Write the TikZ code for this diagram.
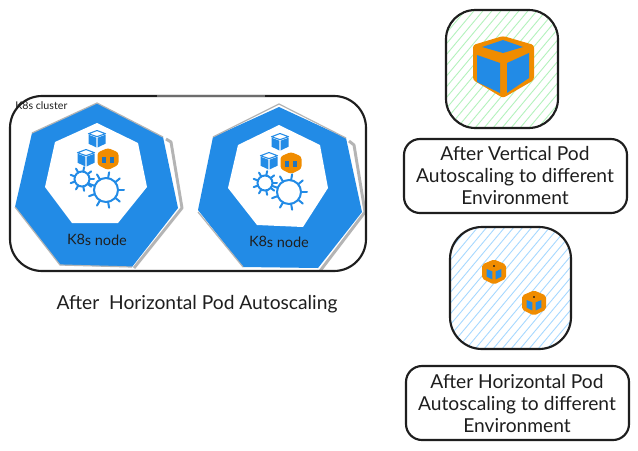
\documentclass[tikz,border=0pt]{standalone}
\usepackage{fontspec}
\setmainfont{Lato}
\definecolor{kblue}{HTML}{228BE6}
\definecolor{korange}{HTML}{F08C00}
\definecolor{kink}{HTML}{1E1E1E}
\definecolor{kgreen}{HTML}{B2F2BB}
\definecolor{khatch}{HTML}{A5D8FF}
\definecolor{kgray}{HTML}{B4B4B4}
\tikzset{
  x=0.75pt,y=-0.75pt,
  outline/.style={draw=kink,line width=1.6pt},
  shadowline/.style={draw=kgray,line width=0.9pt,line join=round},
  thickshadow/.style={draw=kgray,line width=2.2pt,line join=round},
  label/.style={text=kink,font=\fontsize{14.4}{16.5}\selectfont,align=center,inner sep=0pt},
  nodelabel/.style={text=kink,font=\fontsize{10.8}{13}\selectfont,inner sep=0pt},
  pics/gear/.style n args={2}{code={
    \draw[kblue,line width=1.5pt] (0,0) circle[radius=#1];
    \foreach \a in {0,40,...,320}
      \draw[kblue,line width=1.5pt,line cap=round] (\a:#1) -- (\a:#2);
  }},
  pics/bluecube/.style={code={
    \begin{scope}[scale=#1]
      \fill[kblue] (-1,-.5) -- (-.06,-.15) -- (-.06,1) -- (-1,.55) -- cycle;
      \fill[kblue] (1,-.5) -- (.06,-.15) -- (.06,1) -- (1,.55) -- cycle;
      \draw[kblue,line width=.8pt,line join=round] (0,-1) -- (1,-.62) -- (0,-.28) -- (-1,-.62) -- cycle;
    \end{scope}
  }},
  pics/pod/.style={code={
    \begin{scope}[scale=#1]
      \fill[korange,rounded corners=1.5] (0,-1.05) -- (1,-.62) -- (1,.55) -- (0,1.05) -- (-1,.55) -- (-1,-.62) -- cycle;
      \fill[kblue] (-.62,-.25) -- (-.14,-.05) -- (-.14,.62) -- (-.62,.38) -- cycle;
      \fill[kblue] (.62,-.25) -- (.14,-.05) -- (.14,.62) -- (.62,.38) -- cycle;
      \fill[kink!70!korange] (-.08,-.62) rectangle (.08,-.42);
    \end{scope}
  }},
  pics/minipod/.style={code={
    \begin{scope}[scale=#1]
      \fill[korange,rounded corners=2] (0,-1.05) -- (1,-.62) -- (1,.55) -- (0,1.05) -- (-1,.55) -- (-1,-.62) -- cycle;
      \fill[kblue!80!kink] (-.55,-.2) rectangle (-.2,.38);
      \fill[kblue!80!kink] (.55,-.2) rectangle (.2,.38);
    \end{scope}
  }},
}
\newcommand{\hatchlines}[3]{%
  \foreach \hx in {#3} \draw[#1,line width=.65pt] (\hx,#2) -- ++(112,-134);
}
\begin{document}
\begin{tikzpicture}
\useasboundingbox (0,0) rectangle (638,450);
\fill[white] (0,0) rectangle (638,450);

% first node
\fill[kblue] (97,103) -- (163,137) -- (178,208) -- (132,267) -- (60,265) -- (15,207) -- (32,133) -- cycle;
\draw[shadowline] (32,133) -- (97,103) -- (163,137);
\draw[shadowline] (15,207) -- (60,265) -- (132,267);
\draw[thickshadow] (166,139) -- (171,142) -- (182,208) -- (134,268);
\fill[white] (97,123) -- (138,143) -- (147,187) -- (118,223) -- (72,223) -- (45,187) -- (55,142) -- cycle;
\pic at (97,139) {bluecube=8.5};
\pic at (86,158) {bluecube=8.5};
\pic at (108,159) {minipod=10.5};
\pic at (82,179) {gear={7.5}{12}};
\pic at (106,190) {gear={12}{18}};
\node[nodelabel,rotate=-1] (n1) at (97,240) {K8s node};

% second node
\fill[kblue] (279,107) -- (346,138) -- (362,212) -- (318,268) -- (243,267) -- (198,210) -- (213,137) -- cycle;
\draw[shadowline] (213,137) -- (279,104) -- (346,138);
\draw[shadowline] (198,212) -- (243,267);
\draw[thickshadow] (349,141) -- (354,145) -- (365,212) -- (320,271);
\fill[white] (279,125) -- (320,145) -- (328,188) -- (303,227) -- (257,225) -- (228,188) -- (238,145) -- cycle;
\pic at (280,142) {bluecube=8.5};
\pic at (269,161) {bluecube=8.5};
\pic at (291,163) {minipod=10.5};
\pic at (265,183) {gear={7.5}{12}};
\pic at (289,192) {gear={12}{18}};
\node[nodelabel,rotate=-1] (n2) at (279,242) {K8s node};

% cluster
\draw[outline,rounded corners=24] (10,271) rectangle (366,96);
\draw[kink!65,line width=1.6pt] (157,96) -- (265,96);
\node[text=kink,font=\fontsize{8}{10}\selectfont,inner sep=0pt,anchor=west] (cl) at (15,106) {K8s cluster};
\node[label] (c) at (197,304) {After\ \ Horizontal Pod Autoscaling};

% green box
\begin{scope}
  \clip[rounded corners=22] (446,10) rectangle (558,128);
  \hatchlines{kgreen}{128}{340,349,...,560}
\end{scope}
\draw[outline,rounded corners=22] (446,10) rectangle (558,128);
\fill[korange,rounded corners=2] (503,36) -- (534,45) -- (534,80) -- (503,98) -- (473,80) -- (473,45) -- cycle;
\fill[kblue] (503,40) -- (523,47) -- (503,53) -- (482,47) -- cycle;
\fill[kblue] (477,55) -- (500,63) -- (500,93) -- (477,82) -- cycle;
\fill[kblue] (507,63) -- (529,53) -- (529,78) -- (507,93) -- cycle;

% text box 1
\draw[outline,rounded corners=12] (404,139) rectangle (627,213);
\node[label] (t1) at (515,176) {After Vertical Pod\\Autoscaling to different\\Environment};

% blue box
\begin{scope}
  \clip[rounded corners=24] (450,227) rectangle (571,349);
  \hatchlines{khatch}{349}{340,349,...,575}
\end{scope}
\draw[outline,rounded corners=24] (450,227) rectangle (571,349);
\pic at (494,272) {pod=12};
\pic at (534,303) {pod=12};

% text box 2
\draw[outline,rounded corners=12] (406,366) rectangle (629,440);
\node[label] (t2) at (517,403) {After Horizontal Pod\\Autoscaling to different\\Environment};
\end{tikzpicture}
\end{document}
